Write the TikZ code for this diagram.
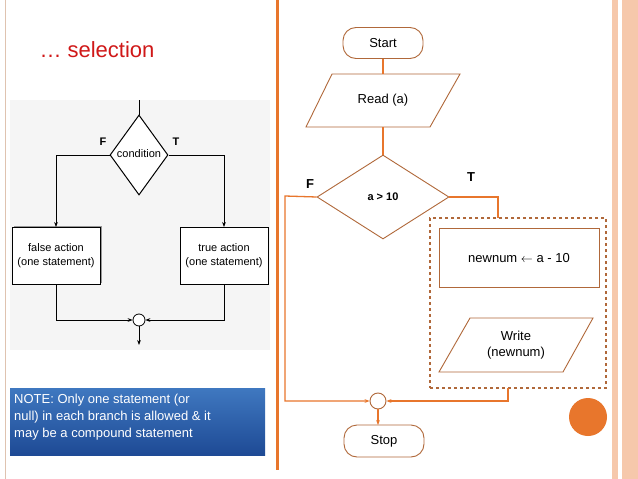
\documentclass[tikz,border=0pt]{standalone}
\usepackage{fontspec}
\setmainfont{Liberation Sans}
\usetikzlibrary{shapes.geometric,arrows.meta,shadows}
\definecolor{org}{HTML}{E8762C}
\definecolor{brn}{HTML}{B0683A}
\definecolor{ttl}{HTML}{D01818}
\definecolor{nb1}{HTML}{3F78C0}
\definecolor{nb2}{HTML}{1E4A95}
\begin{document}
\begin{tikzpicture}[x=1pt,y=-1pt,
 fo/.style={draw=brn,line width=0.9pt,fill=white,font=\fontsize{13}{15}\selectfont},
 tx/.style={font=\fontsize{13}{16}\selectfont,inner sep=0pt,align=center},
 shp/.style={draw=brn,line width=0.9pt,fill=white},
 ln/.style={draw=org,line width=1.3pt},
 bl/.style={draw=black,line width=1pt},
 >={Stealth[length=5pt]}]
\useasboundingbox (0,0) rectangle (638,479);
\fill[white] (0,0) rectangle (638,479);
% borders
\draw[color=brn!40,line width=1pt] (5,0) -- (5,479);
\fill[org!40] (612,0) rectangle (618,479);
\fill[org!40] (622,0) rectangle (638,479);
\draw[org,line width=3pt] (277,0) -- (277,470);
\fill[org] (588,417) circle (19);
% title
\node[text=ttl,font=\fontsize{22}{26}\selectfont,anchor=west] (title) at (36,50) {… selection};
% left picture
\fill[black!4] (10,100) rectangle (270,350);
\node[bl,diamond,aspect=0.75,minimum width=58pt,minimum height=80pt,inner sep=0pt,fill=white] (cond) at (139,155) {};
\node[font=\fontsize{11}{13}\selectfont] (condt) at (139,154) {condition};
\coordinate (ctop) at (139,100);
\draw[bl] (ctop) -- (cond.north);
\node[bl,fill=white,minimum width=88pt,minimum height=57pt,font=\fontsize{11}{14}\selectfont,align=center,drop shadow={shadow xshift=2pt,shadow yshift=2pt,opacity=0.8}] (fa) at (56,256) {false action\\(one statement)};
\node[bl,fill=white,minimum width=88pt,minimum height=57pt,font=\fontsize{11}{14}\selectfont,align=center] (ta) at (224,256) {true action\\(one statement)};
\draw[bl,->] (cond.west) -| (fa.north);
\draw[bl,->] (cond.east) -| (ta.north);
\node[draw,line width=0.8pt,circle,minimum size=12pt,inner sep=0pt,fill=white] (jn) at (139,320) {};
\draw[bl,->] (fa.south) |- (jn.west);
\draw[bl,->] (ta.south) |- (jn.east);
\coordinate (jout) at (139,345);
\draw[bl,->] (jn.south) -- (jout);
\node[font=\bfseries\fontsize{11}{13}\selectfont] (lf) at (103,142) {F};
\node[font=\bfseries\fontsize{11}{13}\selectfont] (lt) at (176,142) {T};
% note
\shade[top color=nb1,bottom color=nb2] (10,388) rectangle (265,455);
\node[text=white,font=\fontsize{13}{17}\selectfont,align=left,anchor=north west,inner sep=0pt] (note) at (14,394) {NOTE: Only one statement (or\\null) in each branch is allowed \& it\\may be a compound statement};
% right flowchart
\node[fo,rounded corners=13pt,minimum width=80pt,minimum height=31pt] (start) at (383,43) {Start};
\draw[shp] (332,74) -- (460,74) -- (430,127) -- (306,127) -- cycle;
\node[tx,minimum width=124pt,minimum height=53pt] (read) at (383,100.5) {Read (a)};
\node[fo,diamond,minimum width=132pt,minimum height=84pt,inner sep=0pt,font=\bfseries\fontsize{11}{13}\selectfont] (dec) at (383,197) {a > 10};
\node[font=\bfseries\fontsize{13}{15}\selectfont] (F) at (310,184) {F};
\node[font=\bfseries\fontsize{13}{15}\selectfont] (T) at (471,177) {T};
\node[draw=brn,dashed,line width=1.1pt,minimum width=176pt,minimum height=170pt] (box) at (518,303) {};
\node[fo,minimum width=160pt,minimum height=59pt] (nn) at (519,258) {newnum $\leftarrow$ a - 10};
\draw[shp] (470,318) -- (593,318) -- (563,372) -- (439,372) -- cycle;
\node[tx,minimum width=124pt,minimum height=54pt] (wr) at (516,345) {Write\\(newnum)};
\node[draw=brn,line width=0.9pt,circle,minimum size=16pt,inner sep=0pt,fill=white] (j2) at (378,401) {};
\node[fo,rounded corners=13pt,minimum width=80pt,minimum height=32pt] (stop) at (384,441) {Stop};
\draw[ln] (start) -- (read);
\draw[ln] (read) -- (dec.north);
\coordinate (bt) at (498,218);
\draw[ln] (dec.east) -| (bt);
\coordinate (fl) at (285,196);
\draw[ln,->] (dec.west) -- (fl) |- (j2.west);
\coordinate (bb) at (508,388);
\draw[ln,->] (bb) |- (j2.east);
\coordinate (sn) at (378,425);
\draw[ln,->] (j2.south) -- (sn);
\end{tikzpicture}
\end{document}
